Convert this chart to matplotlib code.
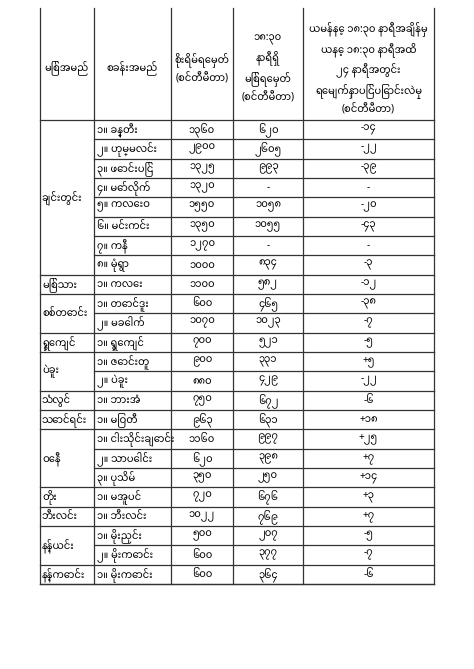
import matplotlib.pyplot as plt

MM = ['Noto Sans Myanmar', 'Padauk', 'Myanmar Text', 'DejaVu Sans']
plt.rcParams['font.family'] = MM

districts = ['ချင်းတွင်း', 'မြစ်သား', 'စစ်တောင်း', 'ရွှေကျင်', 'ပဲခူး', 'သံလွင်',
             'သောင်ရင်း', 'ဝေနီ', 'တိုး', 'ဘီးလင်း', 'နန့်ယင်း', 'နန့်ကောင်း']
spans = [8, 1, 2, 1, 2, 1, 1, 3, 1, 1, 2, 1]
stations = ['ခန္တီး', 'ဟုမ္မလင်း', 'ဖောင်းပြင်', 'မော်လိုက်', 'ကလေးဝ', 'မင်းကင်း', 'ကနီ', 'မုံရွာ',
            'ကလေး', 'တောင်ဒူး', 'မခေါက်', 'ရွှေကျင်', 'ဇောင်းတူ', 'ပဲခူး', 'ဘားအံ', 'မြဝတီ',
            'ငါးသိုင်းချောင်း', 'သာပေါင်း', 'ပုသိမ်', 'မအူပင်', 'ဘီးလင်း', 'မိုးညှင်း', 'မိုးကောင်း', 'မိုးကောင်း']
danger = [1360, 2900, 1325, 1320, 1550, 1350, 1270, 1000, 1100, 600, 1070, 700, 900, 880,
          750, 963, 1160, 620, 350, 720, 1022, 500, 600, 600]
level = [620, 2605, 993, None, 1058, 1055, None, 834, 582, 465, 1023, 521, 331, 429,
         672, 631, 997, 398, 250, 676, 769, 207, 377, 364]
change = [-14, -22, -39, None, -20, -43, None, -3, -12, -38, -7, -5, 5, -22,
          -6, 18, 25, 7, 14, 3, 7, -5, -7, -6]
headers = ['မြစ်အမည်', 'စခန်းအမည်', 'စိုးရိမ်ရေမှတ်\n(စင်တီမီတာ)',
           '၁၈:၃၀\nနာရီရှိ\nမြစ်ရေမှတ်\n(စင်တီမီတာ)',
           'ယမန်နေ့ ၁၈:၃၀ နာရီအချိန်မှ\nယနေ့ ၁၈:၃၀ နာရီအထိ\n၂၄ နာရီအတွင်း\nရေမျက်နှာပြင်ပြောင်းလဲမှု\n(စင်တီမီတာ)']

MYD = str.maketrans('0123456789', '၀၁၂၃၄၅၆၇၈၉')
def mm(v, sign=False):
    if v is None:
        return '-'
    s = str(abs(v)).translate(MYD)
    if sign:
        return ('+' if v > 0 else '-') + s
    return s

fig = plt.figure(figsize=(4.74, 6.69), dpi=100)
ax = fig.add_axes([0, 0, 1, 1])
ax.set_xlim(0, 474)
ax.set_ylim(669, 0)
ax.axis('off')

cols = [40, 94, 171, 233, 303, 434]
top, hbot, bot = 8, 120, 584
n = len(stations)
rh = (bot - hbot) / n
lw = 0.9
fs = 7.2

for x in cols:
    ax.plot([x, x], [top, bot], color='#333', lw=lw)
ax.plot([cols[0], cols[-1]], [hbot, hbot], color='#333', lw=lw)
ax.plot([cols[0], cols[-1]], [bot, bot], color='#333', lw=lw)

for i, h in enumerate(headers):
    ax.text((cols[i] + cols[i + 1]) / 2, (top + hbot) / 2 + 4, h, ha='center', va='center',
            fontsize=fs, linespacing=1.6)

r = 0
for d, sp in zip(districts, spans):
    y0 = hbot + r * rh
    ax.text(cols[0] + 2, y0 + sp * rh / 2, d, ha='left', va='center', fontsize=fs)
    ax.plot([cols[0], cols[-1]], [y0 + sp * rh] * 2, color='#333', lw=lw)
    for k in range(sp):
        yy = y0 + (k + 1) * rh
        if k < sp - 1:
            ax.plot([cols[1], cols[-1]], [yy, yy], color='#333', lw=lw)
        idx = r + k
        yc = y0 + (k + 0.5) * rh
        ax.text(cols[1] + 3, yc, mm(k + 1) + '။ ' + stations[idx], ha='left', va='center', fontsize=fs)
        ax.text((cols[2] + cols[3]) / 2, yc, mm(danger[idx]), ha='center', va='center', fontsize=fs)
        ax.text((cols[3] + cols[4]) / 2, yc, mm(level[idx]), ha='center', va='center', fontsize=fs)
        ax.text((cols[4] + cols[5]) / 2, yc, mm(change[idx], True), ha='center', va='center', fontsize=fs)
    r += sp

fig.savefig('out.png', dpi=100, facecolor='white')
